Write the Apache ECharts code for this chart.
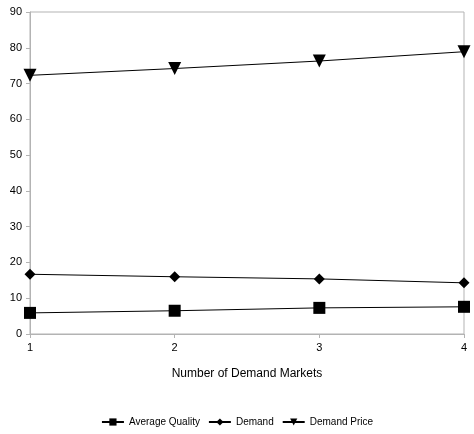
<!DOCTYPE html><html><head><meta charset="utf-8">
<script src="https://cdn.jsdelivr.net/npm/echarts@6/dist/echarts.min.js"></script>
<style>html,body{margin:0;background:#fff}#c{width:474px;height:434px}</style></head><body><div id="c"></div>
<script>
const categories=['1','2','3','4'];
const averageQuality=[5.9,6.5,7.3,7.6];
const demand=[16.7,16.0,15.4,14.3];
const demandPrice=[72.3,74.2,76.3,78.9];
const yTicks=[0,10,20,30,40,50,60,70,80,90];
const ch=echarts.init(document.getElementById('c'));
const font='Liberation Sans, Arial, sans-serif';
const mk=(name,data,sym,size)=>({name,type:'line',data,symbol:sym,symbolSize:size,
 lineStyle:{color:'#000',width:1},itemStyle:{color:'#000'},emphasis:{disabled:true}});
ch.setOption({
 animation:false,
 grid:{left:30,right:10,top:12,bottom:100,show:true,borderColor:'#b3b3b3',borderWidth:1},
 xAxis:{type:'category',data:categories,boundaryGap:false,
  name:'Number of Demand Markets',nameLocation:'middle',nameGap:34,
  nameTextStyle:{color:'#000',fontSize:12,fontFamily:font},
  axisLine:{lineStyle:{color:'#b3b3b3'}},axisTick:{show:true,length:4,lineStyle:{color:'#b3b3b3'}},
  axisLabel:{color:'#000',fontSize:11,fontFamily:font},splitLine:{show:false}},
 yAxis:{type:'value',min:yTicks[0],max:yTicks[yTicks.length-1],interval:10,
  axisLine:{show:true,lineStyle:{color:'#b3b3b3'}},axisTick:{show:true,length:4,lineStyle:{color:'#b3b3b3'}},
  axisLabel:{color:'#000',fontSize:11,fontFamily:font},splitLine:{show:false}},
 legend:{bottom:2,itemWidth:22,itemHeight:9,itemGap:8,icon:undefined,
  textStyle:{color:'#000',fontSize:10,fontFamily:font}},
 series:[mk('Average Quality',averageQuality,'rect',12),
  mk('Demand',demand,'diamond',11),
  mk('Demand Price',demandPrice,'path://M0,0L10,0L5,9Z',13)]
});
</script></body></html>
